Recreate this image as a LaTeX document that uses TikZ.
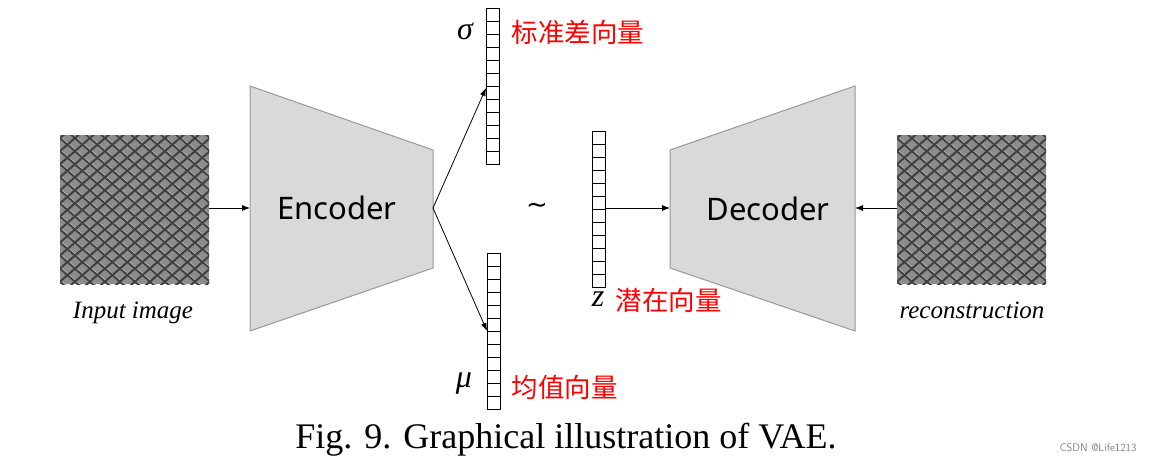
\documentclass[tikz,border=0pt]{standalone}
\usepackage{fontspec}
\setmainfont{Liberation Serif}
\newfontfamily\cjk{Noto Sans CJK SC}
\newfontfamily\enc{Noto Sans}
\newfontfamily\dejavu{DejaVu Sans}
\usetikzlibrary{arrows.meta}
\begin{document}
\begin{tikzpicture}[x=1pt,y=-1pt,
  trap/.style={fill=black!15,draw=black!40,line width=1pt},
  arr/.style={-{Latex[length=8pt,width=6pt]},line width=0.8pt},
  vec/.style={draw=black,line width=0.8pt},
  red/.style={text=red,font=\cjk\fontsize{26.5}{26.5}\selectfont},
  greek/.style={font=\itshape\fontsize{32}{32}\selectfont}]
\useasboundingbox (0,0) rectangle (1164,463);
% mesh images
\foreach \ox in {60,897}{
  \begin{scope}
    \clip (\ox,135) rectangle ++(149,149);
    \fill[black!45] (\ox,135) rectangle ++(149,149);
    \foreach \k in {-14,...,24}{
      \draw[black!75,line width=2pt] (\ox+\k*15,125) -- ++(200,174);
      \draw[black!75,line width=2pt] (\ox+\k*15,125) -- ++(-200,174);
      \draw[black!30,line width=0.6pt] (\ox+\k*15+2,125) -- ++(200,174);
    }
  \end{scope}
}
\path (134,208) node (img1) [minimum width=149pt,minimum height=10pt] {};
\path (971.5,208) node (img2) [minimum width=149pt,minimum height=10pt] {};
% trapezoids
\draw[trap] (250,86) -- (433,150) -- (433,268) -- (250,331) -- cycle;
\draw[trap] (670,150) -- (855,86) -- (855,331) -- (670,268) -- cycle;
\node[font=\enc\fontsize{31}{31}\selectfont] (enc) at (337,208) {Encoder};
\node[font=\enc\fontsize{31}{31}\selectfont] (dec) at (768,209) {Decoder};
\coordinate (encout) at (433,208);
\coordinate (encin) at (250,208);
\coordinate (decin) at (670,208);
\coordinate (decout) at (855,208);
% vectors
\foreach \x/\y in {486/8,487/253,592/131}{
  \foreach \i in {0,...,11}{
    \draw[vec] (\x,\y+\i*13) rectangle ++(13,13);
  }
}
\coordinate (sig) at (486,88);
\coordinate (mu) at (487,331);
\coordinate (zr) at (605,208);
% arrows
\draw[arr] (img1.east) -- (encin);
\draw[arr] (encout) -- (sig);
\draw[arr] (encout) -- (mu);
\draw[arr] (zr) -- (decin);
\draw[arr] (img2.west) -- (decout);
% labels
\node[greek] (ls) at (465,31) {σ};
\node[greek] (lm) at (464,384) {μ};
\node[greek] (lz) at (598,299) {z};
\node[red,anchor=west] (cs) at (508,32) {标准差向量};
\node[red,anchor=west] (cm) at (508,387) {均值向量};
\node[red,anchor=west] (cz) at (612,300) {潜在向量};
\node[font=\dejavu\fontsize{26}{26}\selectfont] (tl) at (537,208) {∼};
\node[font=\itshape\fontsize{25}{25}\selectfont] (t1) at (133,313) {Input image};
\node[font=\itshape\fontsize{25}{25}\selectfont] (t2) at (972,310) {reconstruction};
\node[font=\fontsize{36}{36}\selectfont] (cap) at (566,440) {Fig. 9. Graphical illustration of VAE.};
\node[font=\sffamily\fontsize{11}{11}\selectfont,text=black!50] (wm) at (1098,448) {CSDN @Life1213};
\end{tikzpicture}
\end{document}
